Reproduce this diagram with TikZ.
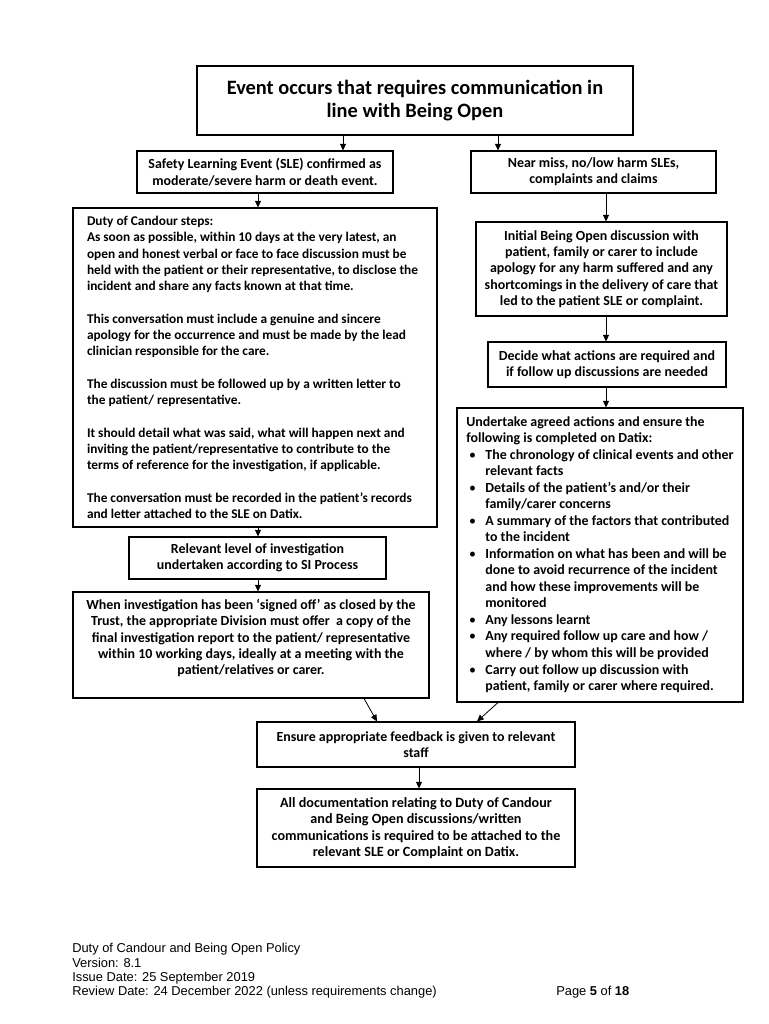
\documentclass[tikz,border=0pt]{standalone}
\usepackage{fontspec}
\setmainfont{Carlito}
\newfontfamily\footfont{Liberation Sans}
\usetikzlibrary{arrows.meta}
\begin{document}
\begin{tikzpicture}[x=0.75pt,y=-0.75pt,
  plainbox/.style={draw, line width=0.8pt, inner sep=0pt,
    font=\bfseries\fontsize{10.45}{12.25}\selectfont},
  box/.style={plainbox, align=center},
  arr/.style={-{Triangle[length=5pt,width=4.5pt]}, line width=0.6pt},
  foot/.style={inner sep=0pt, align=left, font=\footfont\fontsize{9.65}{10.8}\selectfont}]
\useasboundingbox (0,0) rectangle (768,1024);
\fill[white] (0,0) rectangle (768,1024);

\node[box, minimum width=327pt, minimum height=51.75pt,
  font=\bfseries\fontsize{15.3}{17.25}\selectfont] (title) at (415,100.5)
  {Event occurs that requires communication in\\line with Being Open};

\node[box, minimum width=192pt, minimum height=31.5pt] (sle) at (265,172)
  {Safety Learning Event (SLE) confirmed as\\moderate/severe harm or death event.};

\node[box, minimum width=183.75pt, minimum height=31.5pt] (near) at (593.5,172)
  {Near miss, no/low harm SLEs,\\complaints and claims};

\node[plainbox, minimum width=273pt, minimum height=239.25pt,
  font=\bfseries\fontsize{10}{12.2}\selectfont] (duty) at (255,367.5)
  {\hspace*{6pt}\parbox[c]{258pt}{\raggedright
Duty of Candour steps:\\
As soon as possible, within 10 days at the very latest, an\\
open and honest verbal or face to face discussion must be\\
held with the patient or their representative, to disclose the\\
incident and share any facts known at that time.\\[12.2pt]
This conversation must include a genuine and sincere\\
apology for the occurrence and must be made by the lead\\
clinician responsible for the care.\\[12.2pt]
The discussion must be followed up by a written letter to\\
the patient/ representative.\\[12.2pt]
It should detail what was said, what will happen next and\\
inviting the patient/representative to contribute to the\\
terms of reference for the investigation, if applicable.\\[12.2pt]
The conversation must be recorded in the patient’s records\\
and letter attached to the SLE on Datix.}};

\node[box, minimum width=188.25pt, minimum height=70.5pt] (init) at (601.5,269)
  {Initial Being Open discussion with\\patient, family or carer to include\\apology for any harm suffered and any\\shortcomings in the delivery of care that\\led to the patient SLE or complaint.};

\node[box, minimum width=178.5pt, minimum height=33.75pt] (decide) at (607,364.5)
  {Decide what actions are required and\\if follow up discussions are needed};

\newcommand{\bul}{\hspace*{2pt}\makebox[12.25pt][l]{\normalfont\textbullet}}
\newcommand{\hng}{\hspace*{14.25pt}}
\node[plainbox, minimum width=214.5pt, minimum height=220.5pt,
  font=\bfseries\fontsize{10.45}{12.4}\selectfont] (under) at (600,555)
  {\begin{tabular}{@{}l@{}}%
Undertake agreed actions and ensure the\\
following is completed on Datix:\\
\bul The chronology of clinical events and other\\
\hng relevant facts\\
\bul Details of the patient’s and/or their\\
\hng family/carer concerns\\
\bul A summary of the factors that contributed\\
\hng to the incident\\
\bul Information on what has been and will be\\
\hng done to avoid recurrence of the incident\\
\hng and how these improvements will be\\
\hng monitored\\
\bul Any lessons learnt\\
\bul Any required follow up care and how /\\
\hng where / by whom this will be provided\\
\bul Carry out follow up discussion with\\
\hng patient, family or carer where required.%
\end{tabular}};

\node[box, minimum width=192.75pt, minimum height=31.5pt] (rel) at (257.5,558)
  {Relevant level of investigation\\undertaken according to SI Process};

\node[box, minimum width=267pt, minimum height=79.5pt, text depth=12pt] (when) at (251,645)
  {When investigation has been ‘signed off’ as closed by the\\Trust, the appropriate Division must offer\ \ a copy of the\\final investigation report to the patient/ representative\\within 10 working days, ideally at a meeting with the\\patient/relatives or carer.};

\node[box, minimum width=238.5pt, minimum height=33.75pt] (ensure) at (416,744.5)
  {Ensure appropriate feedback is given to relevant\\staff};

\node[box, minimum width=238.5pt, minimum height=58.5pt,
  font=\bfseries\fontsize{10.6}{12.25}\selectfont] (all) at (416,828)
  {All documentation relating to Duty of Candour\\and Being Open discussions/written\\communications is required to be attached to the\\relevant SLE or Complaint on Datix.};

\coordinate (xa) at (343,0);
\coordinate (xb) at (498,0);
\coordinate (xc) at (258,0);
\coordinate (xd) at (606,0);
\coordinate (xe) at (419,0);
\coordinate (wa) at (364,0);
\coordinate (wb) at (377,0);
\coordinate (ua) at (498,0);
\coordinate (ub) at (477,0);

\draw[arr] (title.south -| xa) -- (sle.north -| xa);
\draw[arr] (title.south -| xb) -- (near.north -| xb);
\draw[arr] (sle.south -| xc) -- (duty.north -| xc);
\draw[arr] (near.south -| xd) -- (init.north -| xd);
\draw[arr] (init.south -| xd) -- (decide.north -| xd);
\draw[arr] (decide.south -| xd) -- (under.north -| xd);
\draw[arr] (duty.south -| xc) -- (rel.north -| xc);
\draw[arr] (rel.south -| xc) -- (when.north -| xc);
\draw[arr] (when.south -| wa) -- (ensure.north -| wb);
\draw[arr] (under.south -| ua) -- (ensure.north -| ub);
\draw[arr] (ensure.south -| xe) -- (all.north -| xe);

\node[foot, anchor=north west] (ft) at (72,943)
  {Duty of Candour and Being Open Policy\\Version: 8.1\\Issue Date: 25 September 2019\\Review Date: 24 December 2022 (unless requirements change)};
\node[foot, anchor=base west] (pg) at (ft.base east -| 556,0)
  {Page \textbf{5} of \textbf{18}};
\end{tikzpicture}
\end{document}
